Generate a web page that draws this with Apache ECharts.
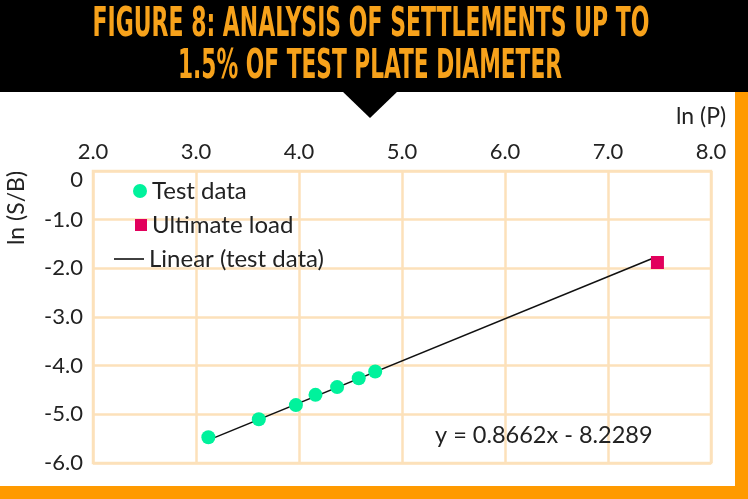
<!DOCTYPE html>
<html><head><meta charset="utf-8">
<script src="https://cdn.jsdelivr.net/npm/echarts@6/dist/echarts.min.js"></script>
<style>html,body{margin:0;padding:0;background:#fff}#c{width:748px;height:499px}</style>
</head><body><div id="c"></div>
<script>
const titleLines = ['FIGURE 8: ANALYSIS OF SETTLEMENTS UP TO', '1.5% OF TEST PLATE DIAMETER'];
const seriesNames = ['Test data', 'Ultimate load', 'Linear (test data)'];
const testX = [3.12, 3.61, 3.97, 4.16, 4.37, 4.58, 4.74];
const testY = [-5.47, -5.10, -4.81, -4.60, -4.44, -4.26, -4.12];
const ultimateX = [7.48];
const ultimateY = [-1.88];
const trendX = [3.12, 7.46];
const trendY = [-5.53, -1.77];
const equationText = 'y = 0.8662x - 8.2289';
const xAxisName = 'ln (P)';
const yAxisName = 'ln (S/B)';

const BODY = 'Lato, "Noto Sans", sans-serif';
const TITLE_FONT = 'bold 40px "Liberation Sans Narrow", "DejaVu Sans Condensed", sans-serif';
const GRID_C = '#FCE1BA';
const TXT = '#222';
const ORANGE = '#FF9A00';

function fitScale(text, font, target) {
  const ctx = document.createElement('canvas').getContext('2d');
  ctx.font = font;
  return target / ctx.measureText(text).width;
}
const s1 = fitScale(titleLines[0], TITLE_FONT, 557);
const s2 = fitScale(titleLines[1], TITLE_FONT, 384);

const chart = echarts.init(document.getElementById('c'), null, {renderer: 'canvas'});
const zip = (xs, ys) => xs.map((x, i) => [x, ys[i]]);

function legendAt(name, left, top, w, h, icon) {
  const l = {
    data: [icon ? {name: name, icon: icon} : name], left: left, top: top, orient: 'vertical',
    itemWidth: w, itemHeight: h, itemGap: 0, padding: 0, selectedMode: false,
    textStyle: {fontFamily: BODY, fontSize: 24, color: TXT}
  };
  if (icon) l.itemStyle = {color: '#111'};
  return l;
}

chart.setOption({
  animation: false,
  backgroundColor: '#fff',
  grid: {left: 93, right: 37, top: 171, bottom: 36, show: true, borderColor: GRID_C, borderWidth: 2.5},
  xAxis: {
    type: 'value', position: 'top', min: 2, max: 8, interval: 1,
    axisLine: {show: false}, axisTick: {show: false},
    splitLine: {show: true, lineStyle: {color: GRID_C, width: 2.5}},
    axisLabel: {formatter: v => v.toFixed(1), fontFamily: BODY, fontSize: 22, color: TXT, margin: 8, showMinLabel: true, showMaxLabel: true}
  },
  yAxis: {
    type: 'value', min: -6, max: 0, interval: 1,
    axisLine: {show: false}, axisTick: {show: false},
    splitLine: {show: true, lineStyle: {color: GRID_C, width: 2.5}},
    axisLabel: {
      formatter: v => v === 0 ? '{z|0}' : v.toFixed(1),
      fontFamily: BODY, fontSize: 22, color: TXT, margin: 10,
      rich: {z: {fontFamily: BODY, fontSize: 22, color: TXT, padding: [18, 0, 0, 0]}}
    }
  },
  legend: [
    legendAt(seriesNames[0], 133, 179, 14, 14),
    legendAt(seriesNames[1], 135, 213, 12, 12),
    legendAt(seriesNames[2], 114, 247, 30, 1.6, 'rect')
  ],
  series: [
    {name: seriesNames[2], type: 'line', data: zip(trendX, trendY), symbol: 'none',
      lineStyle: {color: '#111', width: 1.6}, itemStyle: {color: '#111'}, z: 2},
    {name: seriesNames[0], type: 'scatter', data: zip(testX, testY), symbol: 'circle', symbolSize: 14,
      itemStyle: {color: '#00F29C', opacity: 1}, z: 3},
    {name: seriesNames[1], type: 'scatter', data: zip(ultimateX, ultimateY), symbol: 'rect', symbolSize: 13,
      itemStyle: {color: '#E2005C', opacity: 1}, z: 3}
  ],
  graphic: [
    {type: 'rect', shape: {x: 0, y: 0, width: 748, height: 92}, style: {fill: '#000'}, z: 10},
    {type: 'polygon', shape: {points: [[342, 91], [398, 91], [370, 118]]}, style: {fill: '#000'}, z: 10},
    {type: 'text', x: 371, y: 26, scaleX: s1, z: 11,
      style: {text: titleLines[0], font: TITLE_FONT, fill: '#F7A21B', align: 'center', verticalAlign: 'middle'}},
    {type: 'text', x: 370, y: 68, scaleX: s2, z: 11,
      style: {text: titleLines[1], font: TITLE_FONT, fill: '#F7A21B', align: 'center', verticalAlign: 'middle'}},
    {type: 'rect', shape: {x: 735, y: 92, width: 13, height: 407}, style: {fill: ORANGE}, z: 10},
    {type: 'rect', shape: {x: 0, y: 486, width: 748, height: 13}, style: {fill: ORANGE}, z: 10},
    {type: 'text', x: 701, y: 117, z: 11,
      style: {text: xAxisName, font: '23px ' + BODY, fill: TXT, align: 'center', verticalAlign: 'middle'}},
    {type: 'text', x: 17, y: 208, rotation: Math.PI / 2, z: 11,
      style: {text: yAxisName, font: '23px ' + BODY, fill: TXT, align: 'center', verticalAlign: 'middle'}},
    {type: 'text', x: 435, y: 435, z: 11,
      style: {text: equationText, font: '23.5px ' + BODY, fill: TXT, align: 'left', verticalAlign: 'middle'}}
  ]
});
</script></body></html>
